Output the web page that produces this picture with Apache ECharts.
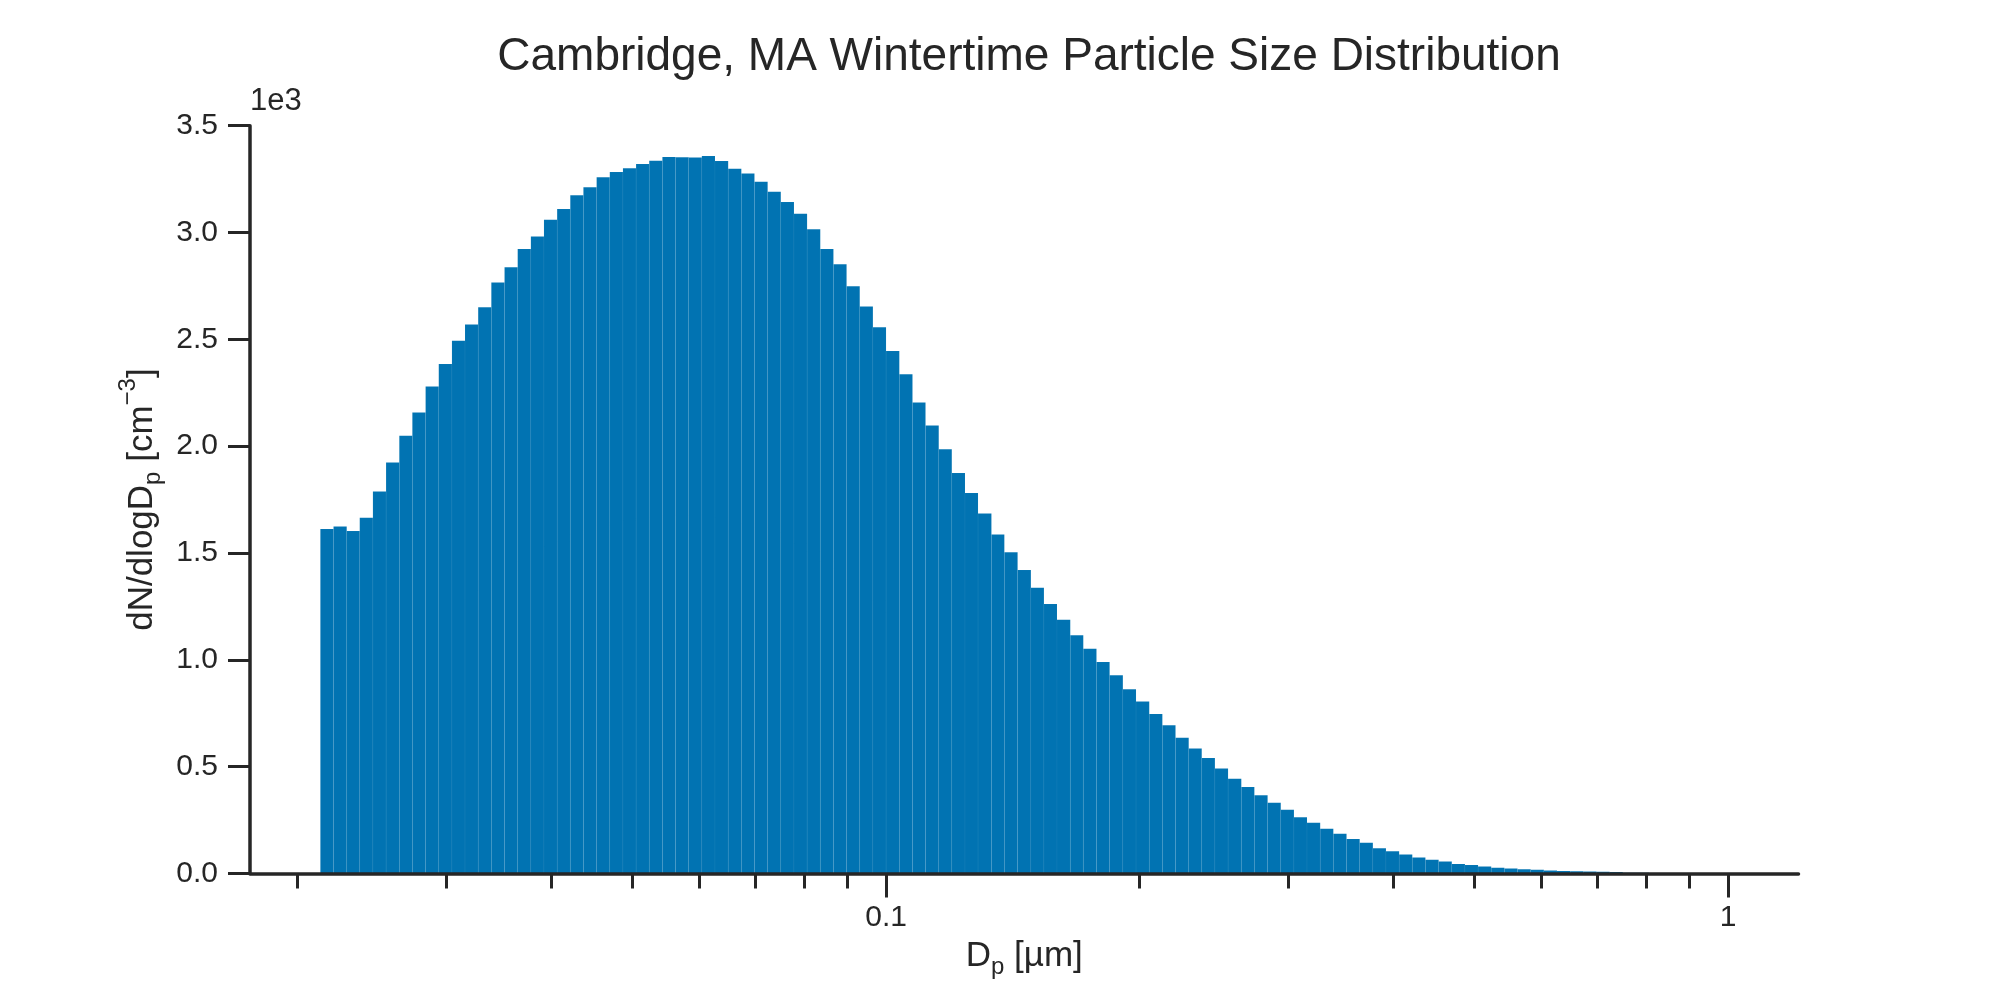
<!DOCTYPE html>
<html>
<head>
<meta charset="utf-8">
<script src="https://cdn.jsdelivr.net/npm/echarts@6/dist/echarts.min.js"></script>
<style>
html,body{margin:0;padding:0;background:#fff;}
#chart{width:2000px;height:1000px;}
</style>
</head>
<body>
<div id="chart"></div>
<script>
// Bin edges (µm), 64 channels per decade
var binEdges = [
  0.02129,0.02207,0.02288,0.02371,0.02458,0.02548,0.02642,0.02738,0.02839,0.02943,
  0.03051,0.03162,0.03278,0.03398,0.03523,0.03652,0.03786,0.03924,0.04068,0.04217,
  0.04371,0.04532,0.04698,0.04870,0.05048,0.05233,0.05425,0.05623,0.05829,0.06043,
  0.06264,0.06494,0.06732,0.06978,0.07234,0.07499,0.07774,0.08058,0.08354,0.08660,
  0.08977,0.09306,0.09647,0.1000,0.1037,0.1075,0.1114,0.1155,0.1197,0.1241,
  0.1286,0.1334,0.1382,0.1433,0.1486,0.1540,0.1596,0.1655,0.1715,0.1778,
  0.1843,0.1911,0.1981,0.2054,0.2129,0.2207,0.2288,0.2371,0.2458,0.2548,
  0.2642,0.2738,0.2839,0.2943,0.3051,0.3162,0.3278,0.3398,0.3523,0.3652,
  0.3786,0.3924,0.4068,0.4217,0.4371,0.4532,0.4698,0.4870,0.5048,0.5233,
  0.5425,0.5623,0.5829,0.6043,0.6264,0.6494,0.6732,0.6978,0.7234,0.7499,
  0.7774,0.8058,0.8354,0.8660,0.8977,0.9306,0.9647,1.0000
];
// dN/dlogDp values (cm^-3) for each bin
var dNdlogDp = [
  1612,1624,1603,1665,1788,1924,2049,2158,2279,2385,
  2494,2569,2650,2766,2838,2923,2981,3060,3110,3174,
  3212,3259,3283,3301,3321,3336,3354,3352,3351,3358,
  3335,3299,3276,3238,3191,3143,3088,3015,2923,2852,
  2749,2654,2557,2446,2337,2204,2097,1986,1874,1781,
  1685,1587,1503,1420,1338,1261,1188,1115,1052,990,
  928,862,805,747,694,635,585,541,491,444,
  405,366,331,298,263,237,210,186,162,144,
  118,104,89,75,64,56,45,40,33,27,
  23,20,17,14,12,11,9,8,7,3,
  3,2,2,1,1,1,1
];
var xMajorTicks = [0.1, 1];
var xMinorTicks = [0.02,0.03,0.04,0.05,0.06,0.07,0.08,0.09,0.2,0.3,0.4,0.5,0.6,0.7,0.8,0.9];
var yTicks = [0, 500, 1000, 1500, 2000, 2500, 3000, 3500];

var FONT = "'Liberation Sans', Arial, Helvetica, sans-serif";
var TXT = '#262626';
var AX = '#262626';

var seriesData = dNdlogDp.map(function (v, i) { return [binEdges[i], binEdges[i + 1], v]; });

var chart = echarts.init(document.getElementById('chart'), null, {renderer: 'canvas'});
chart.setOption({
  backgroundColor: '#ffffff',
  animation: false,
  title: {
    text: 'Cambridge, MA Wintertime Particle Size Distribution',
    left: 1024, top: 29, textAlign: 'center',
    textStyle: {fontFamily: FONT, fontSize: 46, fontWeight: 'normal', color: TXT}
  },
  grid: {left: 250, right: 201.5, top: 125.7, bottom: 126.5, containLabel: false, outerBoundsMode: 'none'},
  xAxis: [{
    type: 'log', logBase: 10, min: 0.017563, max: 1.2125, z: 10,
    name: 'D{sub|p} [µm]', nameLocation: 'middle', nameGap: 83, nameMoveOverlap: false,
    nameTextStyle: {
      fontFamily: FONT, fontSize: 35, color: TXT, lineHeight: 60, verticalAlign: 'middle',
      rich: {sub: {fontFamily: FONT, fontSize: 24, color: TXT, lineHeight: 24, padding: [22, 0, 0, 0]}}
    },
    axisLine: {show: true, lineStyle: {color: AX, width: 3.5}},
    axisTick: {show: true, inside: false, length: 24, customValues: xMajorTicks, lineStyle: {color: AX, width: 3}},
    axisLabel: {show: true, customValues: xMajorTicks, margin: 29, fontFamily: FONT, fontSize: 30, color: TXT,
      formatter: function (v) { return String(+(+v).toPrecision(3)); }},
    splitLine: {show: false}, minorTick: {show: false}, minorSplitLine: {show: false}
  }, {
    type: 'log', logBase: 10, min: 0.017563, max: 1.2125, z: 10, position: 'bottom',
    axisLine: {show: false},
    axisTick: {show: true, inside: false, length: 15, customValues: xMinorTicks, lineStyle: {color: AX, width: 3}},
    axisLabel: {show: false},
    splitLine: {show: false}
  }],
  yAxis: [{
    type: 'value', min: 0, max: 3500, interval: 500, z: 10,
    name: 'dN/dlogD{sub|p} [cm{sup|−3}]', nameLocation: 'middle', nameGap: 108, nameMoveOverlap: false,
    nameTextStyle: {
      fontFamily: FONT, fontSize: 35, color: TXT, lineHeight: 60, verticalAlign: 'middle',
      rich: {
        sub: {fontFamily: FONT, fontSize: 24, color: TXT, lineHeight: 24, padding: [22, 0, 0, 0]},
        sup: {fontFamily: FONT, fontSize: 24, color: TXT, lineHeight: 24, padding: [0, 0, 27, 0]}
      }
    },
    axisLine: {show: true, lineStyle: {color: AX, width: 3.5}},
    axisTick: {show: true, inside: false, length: 22, customValues: yTicks, lineStyle: {color: AX, width: 3}},
    axisLabel: {show: true, margin: 32, fontFamily: FONT, fontSize: 30, color: TXT,
      formatter: function (v) { return (v / 1000).toFixed(1); }},
    splitLine: {show: false}
  }, {
    type: 'value', min: 0, max: 3500, position: 'left', z: 11,
    name: '1e3', nameLocation: 'end', nameGap: 9, nameMoveOverlap: false,
    nameTextStyle: {fontFamily: FONT, fontSize: 31, color: TXT, align: 'left', verticalAlign: 'bottom'},
    axisLine: {show: false}, axisTick: {show: false}, axisLabel: {show: false}, splitLine: {show: false}
  }],
  series: [{
    type: 'custom',
    xAxisIndex: 0, yAxisIndex: 0,
    clip: true,
    encode: {x: [0, 1], y: 2},
    data: seriesData,
    renderItem: function (params, api) {
      var p0 = api.coord([api.value(0), api.value(2)]);
      var p1 = api.coord([api.value(1), 0]);
      return {
        type: 'rect',
        shape: {x: p0[0], y: p0[1], width: p1[0] - p0[0], height: p1[1] - p0[1]},
        style: {fill: '#0173B2', stroke: 'rgba(255,255,255,0.07)', lineWidth: 0.6}
      };
    }
  }]
});
</script>
</body>
</html>
